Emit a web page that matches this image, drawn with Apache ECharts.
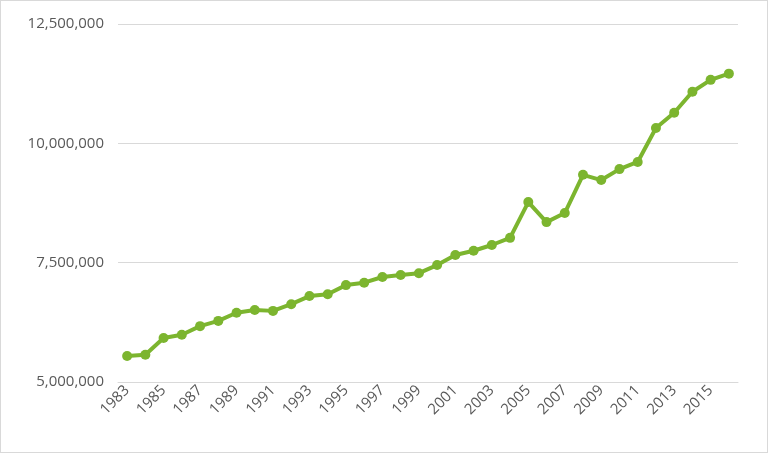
<!DOCTYPE html>
<html><head><meta charset="utf-8">
<script src="https://cdn.jsdelivr.net/npm/echarts@6/dist/echarts.min.js"></script>
<style>html,body{margin:0;padding:0;background:#fff}#c{width:768px;height:453px;box-sizing:border-box;border:1px solid #d9d9d9}</style>
</head><body><div id="c"></div>
<script>
const years = [];
for (let y = 1983; y <= 2016; y++) years.push(String(y));
const values = [5545000,5570000,5920000,5990000,6170000,6280000,6450000,6510000,6490000,6630000,6800000,6840000,7030000,7080000,7200000,7240000,7280000,7450000,7660000,7750000,7870000,8020000,8770000,8350000,8540000,9340000,9230000,9460000,9610000,10320000,10640000,11080000,11330000,11460000];
const chart = echarts.init(document.getElementById('c'));
chart.setOption({
  animation:false,
  grid:{left:117,right:29,top:23,bottom:70},
  xAxis:{type:'category',data:years,boundaryGap:true,
    axisLine:{lineStyle:{color:'#d9d9d9'}},axisTick:{show:false},
    axisLabel:{interval:1,rotate:45,color:'#595959',fontSize:15,fontFamily:'Open Sans',margin:6}},
  yAxis:{type:'value',min:5000000,max:12500000,interval:2500000,
    axisLine:{show:false},axisTick:{show:false},
    splitLine:{lineStyle:{color:'#d9d9d9'}},
    axisLabel:{color:'#595959',fontSize:15,fontFamily:'Open Sans',margin:14,
      formatter:v=>v.toLocaleString('en-US')}},
  series:[{type:'line',data:values,symbol:'circle',symbolSize:10,
    lineStyle:{color:'#7cb52f',width:4},itemStyle:{color:'#7cb52f'}}]
});
</script></body></html>
